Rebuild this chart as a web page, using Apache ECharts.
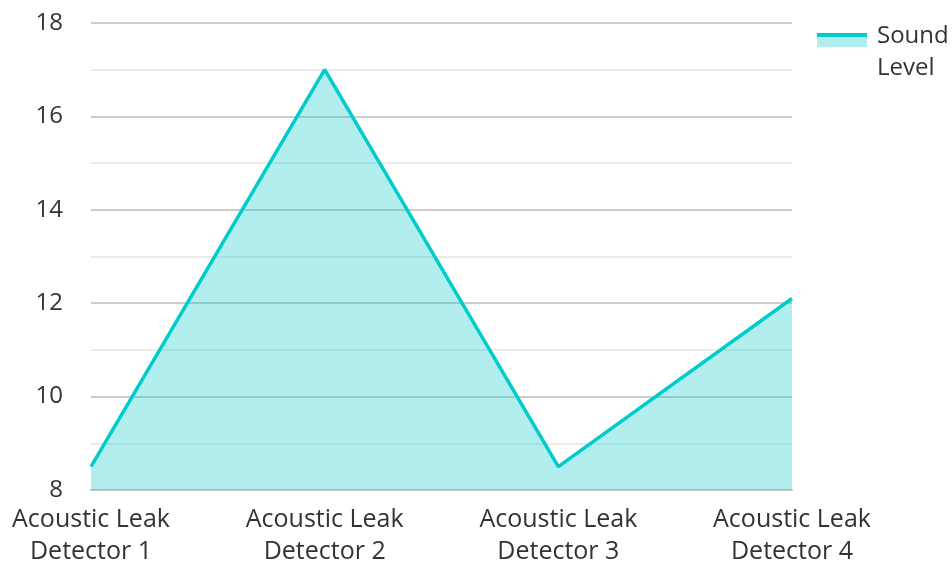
<!DOCTYPE html>
<html>
<head>
<meta charset="utf-8">
<script src="https://cdn.jsdelivr.net/npm/echarts@6/dist/echarts.min.js"></script>
<style>
  html, body { margin: 0; padding: 0; background: #fff; }
  #chart { width: 952px; height: 562px; }
</style>
</head>
<body>
<div id="chart"></div>
<script>
// detector names and readings
const categories = ['Acoustic Leak\nDetector 1', 'Acoustic Leak\nDetector 2', 'Acoustic Leak\nDetector 3', 'Acoustic Leak\nDetector 4'];
const soundLevel = [8.5, 17, 8.5, 12.1];
const seriesName = 'Sound\nLevel';

const lineColor = '#00cccc';
const fillColor = 'rgba(0,199,199,0.3)';

const chart = echarts.init(document.getElementById('chart'));

chart.setOption({
  backgroundColor: '#fff',
  textStyle: { fontFamily: 'Open Sans' },
  // legend drawn by hand: line over a filled band, text wrapped in two lines
  graphic: [
    {
      type: 'rect',
      left: 817,
      top: 33,
      shape: { width: 50, height: 14 },
      style: { fill: fillColor }
    },
    {
      type: 'rect',
      left: 817,
      top: 33,
      shape: { width: 50, height: 4 },
      style: { fill: lineColor }
    },
    {
      type: 'text',
      left: 877,
      top: 20,
      style: {
        text: seriesName,
        fontSize: 24,
        lineHeight: 32,
        fill: '#333',
        fontFamily: 'Open Sans'
      }
    }
  ],
  grid: {
    left: 91,
    right: 160,
    top: 23,
    bottom: 72,
    outerBoundsMode: 'none'
  },
  xAxis: {
    type: 'category',
    boundaryGap: false,
    data: categories,
    axisLine: { lineStyle: { color: '#c4c4c4', width: 2 } },
    axisTick: { show: false },
    axisLabel: {
      fontSize: 25,
      color: '#333',
      lineHeight: 32,
      margin: 14,
      interval: 0,
      fontFamily: 'Open Sans'
    }
  },
  yAxis: {
    type: 'value',
    min: 8,
    max: 18,
    interval: 2,
    axisLine: { show: false },
    axisTick: { show: false },
    axisLabel: { fontSize: 24, color: '#333', margin: 28, fontFamily: 'Open Sans' },
    splitLine: { lineStyle: { color: '#cccccc', width: 2 } },
    minorTick: { show: false, splitNumber: 2 },
    minorSplitLine: { show: true, lineStyle: { color: '#ebebeb', width: 2 } }
  },
  series: [
    {
      name: seriesName,
      type: 'line',
      data: soundLevel,
      symbol: 'none',
      lineStyle: { color: lineColor, width: 3.5 },
      itemStyle: { color: lineColor },
      areaStyle: { color: fillColor, opacity: 1, origin: 'start' }
    }
  ]
});
</script>
</body>
</html>
